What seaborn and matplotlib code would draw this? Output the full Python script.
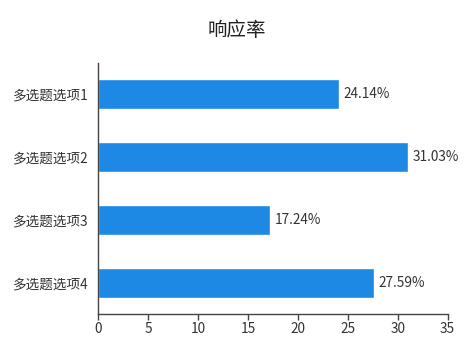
import matplotlib
matplotlib.use("Agg")
import matplotlib.pyplot as plt
import seaborn as sns
import pandas as pd

categories = ["多选题选项1", "多选题选项2", "多选题选项3", "多选题选项4"]
values = [24.14, 31.03, 17.24, 27.59]
labels = ["24.14%", "31.03%", "17.24%", "27.59%"]
xticks = [0, 5, 10, 15, 20, 25, 30, 35]
title = "响应率"

sns.set_style("white")
plt.rcParams['font.family'] = ['Noto Sans CJK SC', 'DejaVu Sans']

df = pd.DataFrame({"cat": categories, "val": values})
fig = plt.figure(figsize=(4.74, 3.46), dpi=100)
ax = fig.add_axes([0.2068, 0.0925, 0.7377, 0.7254])
sns.barplot(data=df, x="val", y="cat", color="#1e88e5", saturation=1, width=0.48, ax=ax, orient="h")
for p, lab in zip(ax.patches, labels):
    ax.text(p.get_width() + 0.45, p.get_y() + p.get_height() / 2, lab,
            va="center", ha="left", fontsize=9.8, color="#333333")
ax.set_xlim(0, 35)
ax.set_ylim(3.5, -0.5)
ax.set_xticks(xticks)
ax.set_xlabel("")
ax.set_ylabel("")
for s in ["top", "right"]:
    ax.spines[s].set_visible(False)
for s in ["left", "bottom"]:
    ax.spines[s].set_color("#444444")
    ax.spines[s].set_linewidth(1.0)
ax.tick_params(axis="x", length=4, width=1, color="#444444", labelsize=9.8, labelcolor="#333333", pad=2, bottom=True)
ax.tick_params(axis="y", length=0, labelsize=9.8, labelcolor="#333333", pad=7)
fig.text(0.5, 0.912, title, ha="center", va="center", fontsize=14, color="#222222")
fig.savefig("out.png", dpi=100)
